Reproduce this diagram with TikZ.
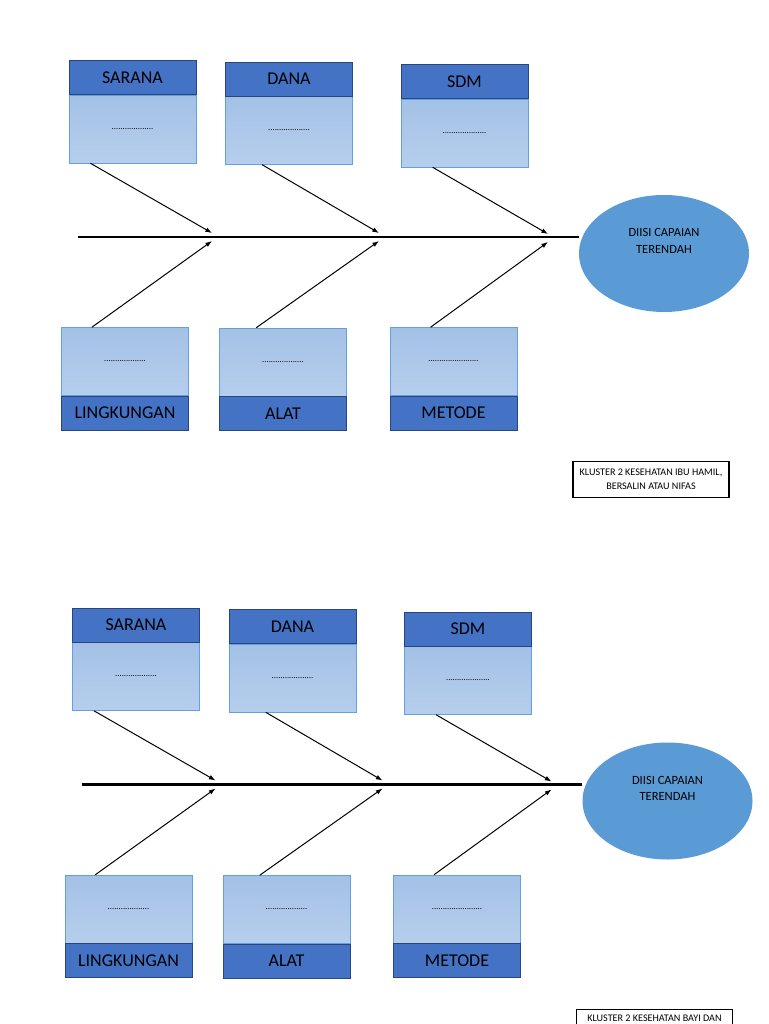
\documentclass[tikz,border=0pt]{standalone}
\usepackage{fontspec}
\setmainfont{Carlito}
\usepackage{xcolor}
\usepackage{tikz}
\usetikzlibrary{arrows.meta,positioning,calc,shapes.geometric}
\definecolor{headc}{RGB}{68,114,196}
\definecolor{headl}{RGB}{40,70,125}
\definecolor{bodyt}{RGB}{163,193,230}
\definecolor{bodyb}{RGB}{182,206,236}
\definecolor{bodyl}{RGB}{98,160,222}
\definecolor{goalc}{RGB}{91,155,213}

\begin{document}
\begin{tikzpicture}[x=0.75pt,y=-0.75pt,>={Latex[length=5pt,width=3.6pt]},
  head/.style={draw=headl,fill=headc,minimum width=95.25pt,minimum height=25.5pt,inner sep=0pt,font=\fontsize{13.5}{15}\selectfont},
  body/.style={draw=bodyl,top color=bodyt,bottom color=bodyb,minimum width=95.25pt,minimum height=51pt,inner sep=0pt,font=\fontsize{6.5}{7}\selectfont},
  goal/.style={ellipse,fill=goalc,minimum width=127.5pt,minimum height=87.75pt,inner sep=0pt},
  goaltext/.style={align=center,inner sep=0pt,font=\fontsize{9.4}{12.5}\selectfont},
  kluster/.style={draw,thick,minimum width=117pt,minimum height=27pt,inner sep=0pt,align=center,font=\fontsize{7.6}{10.5}\selectfont},
  spine/.style={line width=2.2pt},
  bone/.style={->,line width=0.75pt}]
\useasboundingbox[fill=white] (0,0) rectangle (768,1024);
% two fishbone diagrams, the lower one shifted down the page
\foreach \dx/\dy/\k/\lab in {0/0/1/{KLUSTER 2 KESEHATAN IBU HAMIL,\\BERSALIN ATAU NIFAS},
                            3.5/547.5/2/{KLUSTER 2 KESEHATAN BAYI DAN\\\strut}}{
\begin{scope}[shift={(\dx,\dy)}]
% upper causes
\node[body] (sarb\k) at (132.5,129) {...................};
\node[head,above=0pt of sarb\k] (sarh\k) {SARANA};
\node[body] (danb\k) at (289,130.5) {...................};
\node[head,above=0pt of danb\k] (danh\k) {DANA};
\node[body] (sdmb\k) at (464.5,133) {....................};
\node[head,above=0pt of sdmb\k] (sdmh\k) {SDM};
% lower causes
\node[body] (linb\k) at (125,361.5) {...................};
\node[head,below=0pt of linb\k] (linh\k) {LINGKUNGAN};
\node[body] (alab\k) at (283,362) {...................};
\node[head,below=0pt of alab\k] (alah\k) {ALAT};
\node[body] (metb\k) at (453.5,361.5) {.......................};
\node[head,below=0pt of metb\k] (meth\k) {METODE};
% effect (text sits above the centre)
\node[goal] (goal\k) at (664,253.5) {};
\node[goaltext] (goalt\k) at ([yshift=9.5pt]goal\k.center) {DIISI CAPAIAN\\TERENDAH};
\node[kluster,anchor=north] (klus\k) at (651,461) {\lab};
% spine and bones
\coordinate (tail\k) at (78,237);
\draw[spine] (tail\k) -- (tail\k -| goal\k.west);
\coordinate (ta\k) at (212,233); \coordinate (tb\k) at (379,233); \coordinate (tc\k) at (548,234);
\coordinate (ua\k) at (212,241); \coordinate (ub\k) at (379,241); \coordinate (uc\k) at (548,242);
\draw[bone] ($(sarb\k.south west)!0.17!(sarb\k.south east)$) -- (ta\k);
\draw[bone] ($(danb\k.south west)!0.29!(danb\k.south east)$) -- (tb\k);
\draw[bone] ($(sdmb\k.south west)!0.25!(sdmb\k.south east)$) -- (tc\k);
\draw[bone] ($(linb\k.north west)!0.24!(linb\k.north east)$) -- (ua\k);
\draw[bone] ($(alab\k.north west)!0.29!(alab\k.north east)$) -- (ub\k);
\draw[bone] ($(metb\k.north west)!0.32!(metb\k.north east)$) -- (uc\k);
\end{scope}}
\end{tikzpicture}
\end{document}
